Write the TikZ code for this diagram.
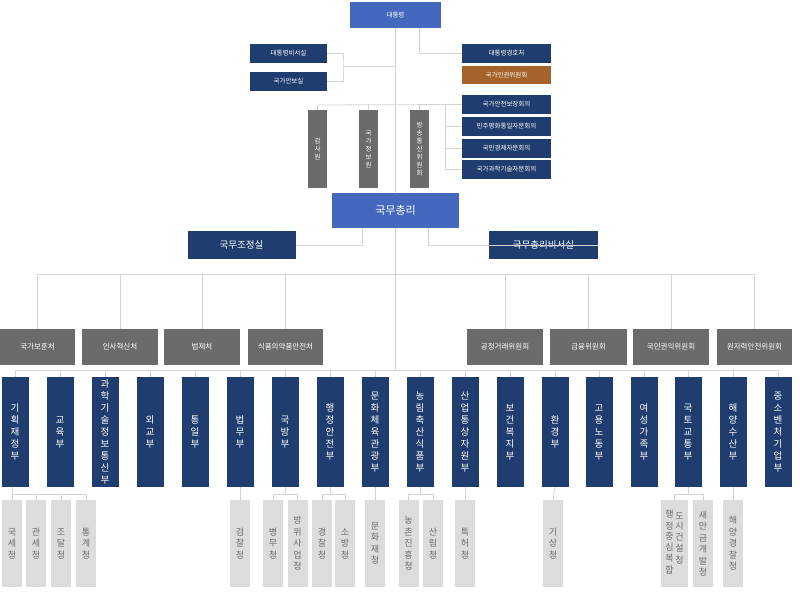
\documentclass[tikz,border=0pt]{standalone}
\usepackage{fontspec}
\setmainfont{Noto Sans CJK KR}
\begin{document}
\begin{tikzpicture}[x=1pt,y=-1pt,
  base/.style={inner sep=0pt,align=center,anchor=center},
  navy/.style={base,fill=navyc,text=white},
  bluebox/.style={base,fill=bluec,text=white},
  graybox/.style={base,fill=grayc,text=white},
  lgbox/.style={base,fill=lgc,text=lgt},
  brownbox/.style={base,fill=brownc,text=white},
  small/.style={font=\fontsize{6.5}{8}\selectfont},
  mid/.style={font=\fontsize{7.5}{9}\selectfont},
  minis/.style={navy,minimum width=27pt,minimum height=110pt,font=\fontsize{9.5}{12}\selectfont},
  agen/.style={lgbox,minimum width=20pt,minimum height=87pt,font=\fontsize{9}{11.5}\selectfont},
  conn/.style={draw=linec,line width=0.8pt}]
\definecolor{navyc}{HTML}{1F3D6E}
\definecolor{bluec}{HTML}{4468BE}
\definecolor{grayc}{HTML}{6B6B6B}
\definecolor{lgc}{HTML}{DCDCDC}
\definecolor{lgt}{HTML}{6B6B6B}
\definecolor{brownc}{HTML}{A5622A}
\definecolor{linec}{HTML}{D4D4D4}
\fill[white] (0,0) rectangle (800,593);
\useasboundingbox (0,0) rectangle (800,593);
% top
\node[bluebox,small,minimum width=91pt,minimum height=26pt] (pres) at (395.5,15) {대통령};
\node[navy,small,minimum width=77pt,minimum height=19pt] (sec) at (288.5,53.5) {대통령비서실};
\node[navy,small,minimum width=77pt,minimum height=19pt] (nsa) at (288.5,81.5) {국가안보실};
\node[navy,small,minimum width=89pt,minimum height=19pt] (guard) at (506.5,53.5) {대통령경호처};
\node[brownbox,small,minimum width=89pt,minimum height=18pt] (hr) at (506.5,75) {국가인권위원회};
\node[navy,small,minimum width=89pt,minimum height=19pt] (c1) at (506.5,104.5) {국가안전보장회의};
\node[navy,small,minimum width=89pt,minimum height=19pt] (c2) at (506.5,126.5) {민주평화통일자문회의};
\node[navy,small,minimum width=89pt,minimum height=19pt] (c3) at (506.5,148.5) {국민경제자문회의};
\node[navy,small,minimum width=89pt,minimum height=19pt] (c4) at (506.5,169.5) {국가과학기술자문회의};
\node[graybox,small,minimum width=19pt,minimum height=78pt,anchor=north] (g1) at (317.5,110) {감\\사\\원};
\node[graybox,small,minimum width=19pt,minimum height=78pt,anchor=north] (g2) at (368.5,110) {국\\가\\정\\보\\원};
\node[graybox,small,minimum width=19pt,minimum height=78pt,anchor=north] (g3) at (419.5,110) {방\\송\\통\\신\\위\\원\\회};
\node[bluebox,font=\fontsize{11}{13}\selectfont,minimum width=127pt,minimum height=35pt] (pm) at (395.5,210.5) {국무총리};
\node[navy,font=\fontsize{9.5}{11}\selectfont,minimum width=108pt,minimum height=28pt] (opc) at (241.5,245) {국무조정실};
\node[navy,font=\fontsize{9.5}{11}\selectfont,minimum width=109pt,minimum height=28pt] (pms) at (543.5,245) {국무총리비서실};
% top connectors
\coordinate (tb) at (343,66);
\draw[conn] (pres.south) -- (pm.north);
\draw[conn] (sec.east) -| (tb) |- (nsa.east);
\draw[conn] (tb) -- (tb -| pres.south);
\draw[conn] ([xshift=24pt]pres.south) |- (guard.west);
\coordinate (gb) at (317.5,105);
\draw[conn] (gb) -- (c1.west);
\draw[conn] (g1.north) -- (g1.north |- gb);
\draw[conn] (g2.north) -- (g2.north |- gb);
\draw[conn] (g3.north) -- (g3.north |- gb);
\coordinate (cb) at (445,105);
\draw[conn] (cb) |- (c4.west);
\draw[conn] (c2.west) -- (c2.west -| cb);
\draw[conn] (c3.west) -- (c3.west -| cb);
\draw[conn] ([xshift=-33pt]pm.south) |- (opc.east);
\draw[conn] ([xshift=33pt]pm.south) |- (pms.east);
% middle row
\node[graybox,mid,minimum width=75pt,minimum height=36pt] (a1) at (37.5,347) {국가보훈처};
\node[graybox,mid,minimum width=76pt,minimum height=36pt] (a2) at (120,347) {인사혁신처};
\node[graybox,mid,minimum width=76pt,minimum height=36pt] (a3) at (202,347) {법제처};
\node[graybox,mid,minimum width=75pt,minimum height=36pt] (a4) at (285.5,347) {식품의약품안전처};
\node[graybox,mid,minimum width=76pt,minimum height=36pt] (b1) at (505,347) {공정거래위원회};
\node[graybox,mid,minimum width=77pt,minimum height=36pt] (b2) at (588.5,347) {금융위원회};
\node[graybox,mid,minimum width=76pt,minimum height=36pt] (b3) at (671,347) {국민권익위원회};
\node[graybox,mid,minimum width=75pt,minimum height=36pt] (b4) at (754.5,347) {원자력안전위원회};
\coordinate (hl) at (37.5,274);
\coordinate (hr2) at (754.5,274);
\draw[conn] (hl) -- (hr2);
\foreach \n in {a1,a2,a3,a4,b1,b2,b3,b4} \draw[conn] (\n.north) -- (\n.north |- hl);
% ministries
\foreach \i/\x/\t in {1/15/기\\획\\재\\정\\부, 2/60/교\\육\\부, 3/105/과\\학\\기\\술\\정\\보\\통\\신\\부, 4/150/외\\교\\부, 5/195/통\\일\\부, 6/240/법\\무\\부, 7/285/국\\방\\부, 8/330/행\\정\\안\\전\\부, 9/375/문\\화\\체\\육\\관\\광\\부, 10/420/농\\림\\축\\산\\식\\품\\부, 11/465/산\\업\\통\\상\\자\\원\\부, 12/510/보\\건\\복\\지\\부, 13/555/환\\경\\부, 14/599/고\\용\\노\\동\\부, 15/644/여\\성\\가\\족\\부, 16/688/국\\토\\교\\통\\부, 17/733/해\\양\\수\\산\\부, 18/778/중\\소\\벤\\처\\기\\업\\부}
  \node[minis] (m\i) at (\x,432) {\t};
\coordinate (bl) at (15,370);
\coordinate (br) at (778,370);
\draw[conn] (bl) -- (br);
\draw[conn] (pm.south) -- (pm.south |- bl);
\foreach \i in {1,...,18} \draw[conn] (m\i.north) -- (m\i.north |- bl);
% agencies
\node[agen] (s1) at (12,543.5) {국\\세\\청};
\node[agen] (s2) at (36,543.5) {관\\세\\청};
\node[agen] (s3) at (61,543.5) {조\\달\\청};
\node[agen] (s4) at (86,543.5) {통\\계\\청};
\node[agen] (s5) at (240,543.5) {검\\찰\\청};
\node[agen] (s6) at (273,543.5) {병\\무\\청};
\node[agen] (s7) at (297.5,543.5) {방\\위\\사\\업\\청};
\node[agen] (s8) at (322,543.5) {경\\찰\\청};
\node[agen] (s9) at (345,543.5) {소\\방\\청};
\node[agen] (s10) at (375,543.5) {문\\화\\재\\청};
\node[agen] (s11) at (408.5,543.5) {농\\촌\\진\\흥\\청};
\node[agen] (s12) at (433,543.5) {산\\림\\청};
\node[agen] (s13) at (465,543.5) {특\\허\\청};
\node[agen] (s14) at (553,543.5) {기\\상\\청};
\node[agen,minimum width=27pt] (s15) at (674.5,543.5) {\begin{tabular}{@{}c@{\hspace{1.5pt}}c@{}}\raisebox{0pt}{\shortstack{행\\정\\중\\심\\복\\합}} & \raisebox{10pt}{\shortstack{도\\시\\건\\설\\청}}\end{tabular}};
\node[agen] (s16) at (703,543.5) {새\\만\\금\\개\\발\\청};
\node[agen] (s17) at (733,543.5) {해\\양\\경\\찰\\청};
% agency connectors
\coordinate (k1) at (12,494);
\draw[conn] (m1.south -| s1) -- (s1.north);
\draw[conn] (k1) -- (k1 -| s4.north);
\foreach \n in {s2,s3,s4} \draw[conn] (\n.north) -- (\n.north |- k1);
\draw[conn] (m6.south) -- (s5.north);
\draw[conn] (m7.south) -- (m7.south |- k1);
\draw[conn] (s6.north |- k1) -- (s7.north |- k1);
\foreach \n in {s6,s7} \draw[conn] (\n.north) -- (\n.north |- k1);
\draw[conn] (m8.south) -- (m8.south |- k1);
\draw[conn] (s8.north |- k1) -- (s9.north |- k1);
\foreach \n in {s8,s9} \draw[conn] (\n.north) -- (\n.north |- k1);
\draw[conn] (m9.south) -- (s10.north);
\draw[conn] (m10.south) -- (m10.south |- k1);
\draw[conn] (s11.north |- k1) -- (s12.north |- k1);
\foreach \n in {s11,s12} \draw[conn] (\n.north) -- (\n.north |- k1);
\draw[conn] (m11.south) -- (s13.north);
\draw[conn] (m13.south) -- (s14.north);
\draw[conn] (m16.south) -- (m16.south |- k1);
\draw[conn] (s15.north |- k1) -- (s16.north |- k1);
\foreach \n in {s15,s16} \draw[conn] (\n.north) -- (\n.north |- k1);
\draw[conn] (m17.south) -- (s17.north);
\end{tikzpicture}
\end{document}
